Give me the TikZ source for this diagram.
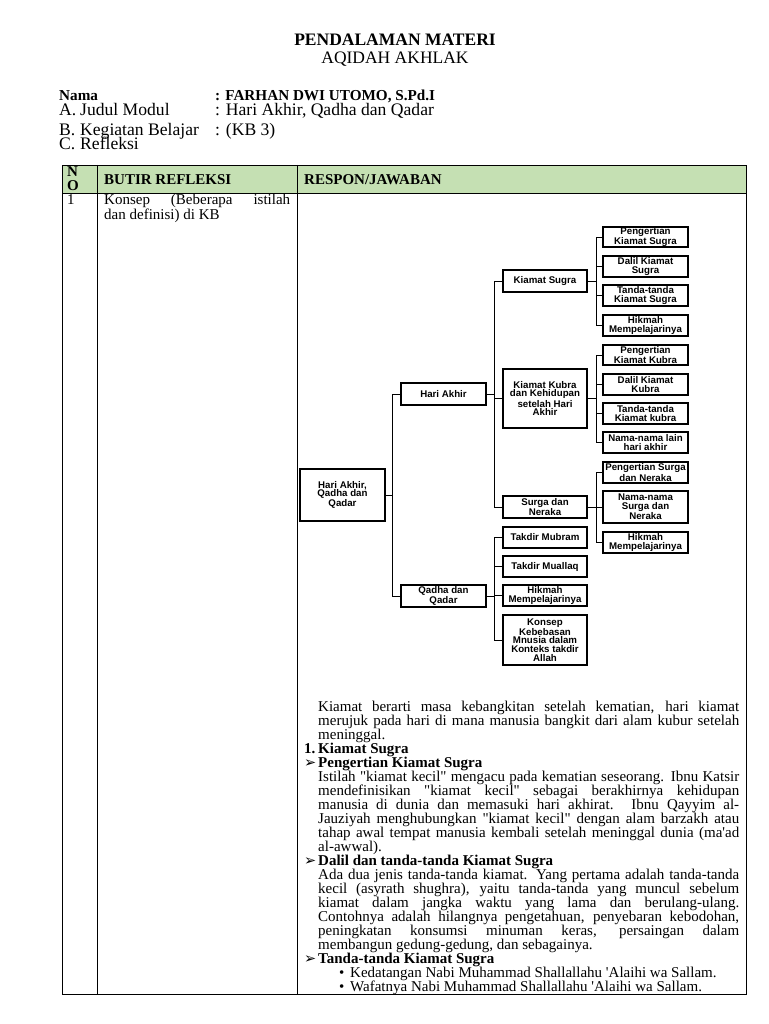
\documentclass[tikz,border=0pt]{standalone}
\usepackage{fontspec}
\setmainfont{Liberation Serif}
\setsansfont{Liberation Sans}
\newfontfamily\rmplain{Liberation Serif}
\newfontfamily\dejavu{DejaVu Sans}
\definecolor{hdrgreen}{HTML}{C5E0B3}
\newcommand\arrmark{\makebox[14pt][l]{\dejavu\fontsize{14.5}{14}\selectfont\raisebox{-0.3pt}{➢}}}
\tikzset{
  box/.style={draw, line width=1.3pt, fill=white, align=center, inner sep=0pt,
    font=\sffamily\bfseries\fontsize{9.7}{8.8}\selectfont, minimum width=85pt},
  boxm/.style={box, minimum width=84pt},
  link/.style={line width=0.9pt},
  rule/.style={line width=0.9pt},
  hdr/.style={anchor=base, inner sep=0pt, font=\fontsize{17.5}{20}\selectfont},
  info/.style={anchor=base west, inner sep=0pt, font=\fontsize{17.6}{20}\selectfont},
  infob/.style={anchor=base west, inner sep=0pt, font=\bfseries\fontsize{15.2}{18}\selectfont},
  cell/.style={anchor=base west, inner sep=0pt, font=\fontsize{15}{14}\selectfont},
}
\begin{document}
\begin{tikzpicture}[x=1pt,y=-1pt]
\useasboundingbox (0,0) rectangle (768,1024);
\fill[white] (0,0) rectangle (768,1024);

% heading
\node[hdr, font=\bfseries\fontsize{17.5}{20}\selectfont] (title) at (395,46) {PENDALAMAN MATERI};
\node[hdr] (subtitle) at (395,64) {AQIDAH AKHLAK};

\node[infob] (nama) at (59,101) {Nama};
\node[infob] (namav) at (215,101) {: FARHAN DWI UTOMO, S.Pd.I};
\node[info] (judul) at (59,116) {\makebox[21pt][l]{A.}Judul Modul};
\node[info] (judulv) at (215,116) {: Hari Akhir, Qadha dan Qadar};
\node[info] (keg) at (59,136) {\makebox[21pt][l]{B.}Kegiatan Belajar};
\node[info] (kegv) at (215,136) {: (KB 3)};
\node[info] (ref) at (59,150) {\makebox[21pt][l]{C.}Refleksi};

% table
\fill[hdrgreen] (62,165) rectangle (746,193);
\draw[rule] (62,165) rectangle (746,994);
\draw[rule] (62,193) -- (746,193);
\draw[rule] (97,165) -- (97,994);
\draw[rule] (297,165) -- (297,994);

\node[cell, font=\bfseries\fontsize{15}{14}\selectfont] (no1) at (67,177) {N};
\node[cell, font=\bfseries\fontsize{15}{14}\selectfont] (no2) at (67,191) {O};
\node[cell, font=\bfseries\fontsize{15}{14}\selectfont] (butir) at (104,185) {BUTIR REFLEKSI};
\node[cell, font=\bfseries\fontsize{15}{14}\selectfont] (respon) at (304,185) {RESPON/JAWABAN};

\node[cell] (one) at (67,205) {1};
\node[cell] (konsep) at (104,205) {\parbox[t]{186pt}{\fontsize{15}{14}\selectfont\tolerance=10000\hyphenpenalty=10000\parindent=0pt
Konsep (Beberapa istilah\linebreak dan definisi) di KB}};

% tree
\node[box, minimum height=52pt] (root) at (342.5,495) {Hari Akhir,\\Qadha dan\\Qadar};
\node[box, minimum height=22pt] (ha) at (443.5,394) {Hari Akhir};
\node[box, minimum height=22pt] (qq) at (443.5,596) {Qadha dan\\Qadar};

\node[boxm, minimum height=22pt] (ks) at (545,281) {Kiamat Sugra};
\node[boxm, minimum height=59pt] (kk) at (545,398.5) {Kiamat Kubra\\dan Kehidupan\\setelah Hari\\Akhir};
\node[boxm, minimum height=22pt] (sn) at (545,507) {Surga dan\\Neraka};

\node[boxm, minimum height=21pt] (tm) at (545,537.5) {Takdir Mubram};
\node[boxm, minimum height=21pt] (tmq) at (545,566.5) {Takdir Muallaq};
\node[boxm, minimum height=21pt] (hq) at (545,595.5) {Hikmah\\Mempelajarinya};
\node[boxm, minimum height=50pt] (kon) at (545,640) {Konsep\\Kebebasan\\Mnusia dalam\\Konteks takdir\\Allah};

\node[box, minimum height=20pt] (pks) at (645.5,237) {Pengertian\\Kiamat Sugra};
\node[box, minimum height=21pt] (dks) at (645.5,266.5) {Dalil Kiamat\\Sugra};
\node[box, minimum height=21pt] (tks) at (645.5,295.5) {Tanda-tanda\\Kiamat Sugra};
\node[box, minimum height=21pt] (hks) at (645.5,325.5) {Hikmah\\Mempelajarinya};

\node[box, minimum height=20pt] (pkk) at (645.5,355) {Pengertian\\Kiamat Kubra};
\node[box, minimum height=21pt] (dkk) at (645.5,384.5) {Dalil Kiamat\\Kubra};
\node[box, minimum height=21pt] (tkk) at (645.5,413.5) {Tanda-tanda\\Kiamat kubra};
\node[box, minimum height=21pt] (nnl) at (645.5,442.5) {Nama-nama lain\\hari akhir};

\node[box, minimum height=21pt] (psn) at (645.5,472.5) {Pengertian Surga\\dan Neraka};
\node[box, minimum height=32pt] (nsn) at (645.5,507) {Nama-nama\\Surga dan\\Neraka};
\node[box, minimum height=21pt] (hsn) at (645.5,542.5) {Hikmah\\Mempelajarinya};

\coordinate (b1) at (392,0);
\coordinate (b2) at (494,0);
\coordinate (b3) at (596,0);

\draw[link] (root.east) -- (b1 |- root.east);
\draw[link] (ha.west) -- (b1 |- ha.west) -- (b1 |- qq.west) -- (qq.west);

\draw[link] (ha.east) -- (b2 |- ha.east);
\draw[link] (ks.west) -- (b2 |- ks.west) -- (b2 |- sn.west) -- (sn.west);
\draw[link] (kk.west) -- (b2 |- kk.west);

\draw[link] (qq.east) -- (b2 |- qq.east);
\draw[link] (tm.west) -- (b2 |- tm.west) -- (b2 |- kon.west) -- (kon.west);
\draw[link] (tmq.west) -- (b2 |- tmq.west);
\draw[link] (hq.west) -- (b2 |- hq.west);

\draw[link] (ks.east) -- (b3 |- ks.east);
\draw[link] (pks.west) -- (b3 |- pks.west) -- (b3 |- hks.west) -- (hks.west);
\draw[link] (dks.west) -- (b3 |- dks.west);
\draw[link] (tks.west) -- (b3 |- tks.west);

\draw[link] (kk.east) -- (b3 |- kk.east);
\draw[link] (pkk.west) -- (b3 |- pkk.west) -- (b3 |- nnl.west) -- (nnl.west);
\draw[link] (dkk.west) -- (b3 |- dkk.west);
\draw[link] (tkk.west) -- (b3 |- tkk.west);

\draw[link] (sn.east) -- (b3 |- sn.east);
\draw[link] (psn.west) -- (b3 |- psn.west) -- (b3 |- hsn.west) -- (hsn.west);
\draw[link] (nsn.west) -- (b3 |- nsn.west);

% body text
\node[anchor=base west, inner sep=0pt] (body) at (304,711) {\parbox[t]{435pt}{%
\rmplain\fontsize{15}{14}\selectfont
\parindent=0pt\parskip=0pt\tolerance=10000\hyphenpenalty=10000\exhyphenpenalty=10000
{\leftskip=14pt Kiamat berarti masa kebangkitan setelah kematian, hari kiamat\linebreak
merujuk pada hari di mana manusia bangkit dari alam kubur setelah\linebreak
meninggal.\par}
\makebox[14pt][l]{\bfseries 1.}{\bfseries Kiamat Sugra}\par
\arrmark{\bfseries Pengertian Kiamat Sugra}\par
{\leftskip=14pt Istilah "kiamat kecil" mengacu pada kematian seseorang. Ibnu Katsir\linebreak
mendefinisikan "kiamat kecil" sebagai berakhirnya kehidupan\linebreak
manusia di dunia dan memasuki hari akhirat. Ibnu Qayyim al-\linebreak
Jauziyah menghubungkan "kiamat kecil" dengan alam barzakh atau\linebreak
tahap awal tempat manusia kembali setelah meninggal dunia (ma'ad\linebreak
al-awwal).\par}
\arrmark{\bfseries Dalil dan tanda-tanda Kiamat Sugra}\par
{\leftskip=14pt Ada dua jenis tanda-tanda kiamat. Yang pertama adalah tanda-tanda\linebreak
kecil (asyrath shughra), yaitu tanda-tanda yang muncul sebelum\linebreak
kiamat dalam jangka waktu yang lama dan berulang-ulang.\linebreak
Contohnya adalah hilangnya pengetahuan, penyebaran kebodohan,\linebreak
peningkatan konsumsi minuman keras, persaingan dalam\linebreak
membangun gedung-gedung, dan sebagainya.\par}
\arrmark{\bfseries Tanda-tanda Kiamat Sugra}\par
\hspace*{35pt}\makebox[11pt][l]{•}Kedatangan Nabi Muhammad Shallallahu 'Alaihi wa Sallam.\par
\hspace*{35pt}\makebox[11pt][l]{•}Wafatnya Nabi Muhammad Shallallahu 'Alaihi wa Sallam.\par
}};
\end{tikzpicture}
\end{document}
